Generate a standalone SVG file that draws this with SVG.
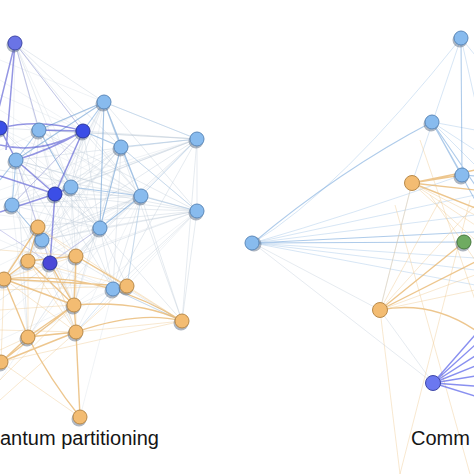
<svg xmlns="http://www.w3.org/2000/svg" width="474" height="474" viewBox="0 0 474 474">
<style>
.e{stroke:#b9c6d6;stroke-width:.8;opacity:.45;fill:none}
.e2{stroke:#c9d3e0;stroke-width:.7;opacity:.4;fill:none}
.eb{stroke:#78a8dc;stroke-width:1.1;opacity:.6;fill:none}
.ebf{stroke:#9cc0e6;stroke-width:.9;opacity:.45;fill:none}
.ep{stroke:#5b5ed4;stroke-width:1.5;opacity:.65;fill:none}
.epf{stroke:#8a8ad8;stroke-width:1;opacity:.4;fill:none}
.eo{stroke:#e6ae5e;stroke-width:1.4;opacity:.7;fill:none}
.eof{stroke:#eec58a;stroke-width:.9;opacity:.45;fill:none}
.ev{stroke:#4a55e8;stroke-width:1.4;opacity:.65;fill:none}
.sh{fill:#4d6078;opacity:.45}
.lb{fill:#88bbee;stroke:#5d8abb;stroke-width:1}
.db{fill:#3b4ee6;stroke:#2a36a0;stroke-width:1}
.pu{fill:#6a74e6;stroke:#3f48a8;stroke-width:1}
.or{fill:#f3bc72;stroke:#b98a4a;stroke-width:1}
.gr{fill:#6fab61;stroke:#497a3f;stroke-width:1}
.lbl{font-family:"Liberation Sans",Arial,sans-serif;font-size:20px;fill:#151515}
</style>
<rect width="474" height="474" fill="#fff"/>
<g id="connectors">
<!-- faint left cluster -->
<path class="e" d="M15 43L83 131M15 43L121 147M15 43L104 102M15 43L71 187M15 43L141 196M15 43L39 130"/>
<path class="e" d="M197 139L104 102M197 139L39 130M197 139L83 131M197 139L121 147M197 139L16 160M197 139L71 187M197 139L55 194M197 139L141 196M197 139L12 205M197 139L100 228M197 139L197 211M197 139L0 128M197 139L42 240M197 139L113 289"/>
<path class="e" d="M197 211L104 102M197 211L121 147M197 211L141 196M197 211L100 228M197 211L71 187M197 211L55 194M197 211L16 160M197 211L12 205M197 211L113 289M197 211L42 240M197 211L76 256M197 211L182 321M197 211L39 130"/>
<path class="e" d="M104 102L39 130M104 102L16 160M104 102L71 187M104 102L55 194M104 102L100 228M104 102L141 196M39 130L71 187M39 130L141 196M39 130L100 228M39 130L12 205M83 131L141 196M83 131L100 228M83 131L71 187M83 131L12 205M121 147L100 228M121 147L55 194M121 147L71 187M121 147L113 289M121 147L42 240M16 160L141 196M16 160L100 228M16 160L71 187M16 160L42 240M71 187L100 228M71 187L113 289M71 187L12 205M71 187L42 240M55 194L141 196M55 194L100 228M55 194L113 289M141 196L100 228M141 196L113 289M141 196L42 240M141 196L12 205M12 205L100 228M12 205L42 240M100 228L113 289M100 228L42 240"/>
<path class="e" d="M100 228L76 256M141 196L76 256M141 196L127 286M100 228L127 286M16 160L76 256M71 187L76 256M113 289L182 321M100 228L182 321M141 196L182 321M197 139L182 321M0 128L100 228M0 170L141 196M0 230L197 211M0 250L141 196M0 300L100 228M12 205L76 332M42 240L182 321M104 102L182 321M121 147L74 305M39 130L28 261M16 160L28 337"/>
<path class="e2" d="M0 60L104 102M0 80L83 131M0 95L121 147M0 110L141 196M0 150L104 102M0 190L121 147M0 200L197 139M0 215L100 228M0 240L113 289M0 265L141 196M0 280L197 211M0 320L141 196M0 340L113 289M0 380L100 228M15 43L55 194M15 43L12 205M15 43L100 228M104 102L28 261M104 102L4 279M121 147L28 261M121 147L4 279M141 196L4 279M141 196L28 337M100 228L4 279M100 228L28 337M100 228L74 305M113 289L28 261M113 289L4 279M113 289L28 337M113 289L80 417M71 187L28 337M71 187L74 305M55 194L74 305M42 240L76 332M42 240L74 305M12 205L28 337M12 205L74 305M83 131L28 261M83 131L76 256M39 130L76 256M16 160L74 305M197 211L74 305M197 211L76 332M197 139L76 256M197 211L127 286M141 196L76 332M104 102L76 256M121 147L12 205M39 130L55 194M0 128L141 196M0 128L71 187"/>
<path class="ebf" d="M197 139L121 147M197 139L104 102M197 211L141 196M197 211L121 147M197 139L141 196M113 289L182 321M113 289L76 332M127 286L141 196"/>
<!-- blue left -->
<path class="eb" d="M104 102L39 130M104 102L83 131M104 102L16 160M104 102L121 147M104 102L141 196M121 147L141 196M121 147L83 131M39 130L16 160M16 160L12 205M12 205L42 240M39 130L71 187M71 187L141 196M121 147L100 228M141 196L100 228M16 160L0 180M104 102L100 228"/>
<!-- purple left -->
<path class="ep" d="M15 43L-2 112M15 43L6 150M0 128Q40 118 83 131M39 130L83 131M83 131Q50 150 16 160M83 131L55 194M16 160L55 194M0 176L55 194M55 194L0 212M55 194L50 263M55 194L71 187M0 128L16 160M0 145Q40 155 83 131"/>
<path class="epf" d="M15 43L39 130M15 43L83 131M50 263L0 230M50 263L16 160M50 263L100 228M83 131L12 205"/>
<!-- orange left -->
<path class="eo" d="M38 227L28 261M28 261L76 256M28 261L4 279M4 279L28 337M28 337L1 362M28 337L76 332M28 337Q50 380 80 417M76 332L80 417M74 305L76 332M76 256L74 305M74 305Q140 300 182 321M76 332Q140 310 182 321M4 279Q100 270 182 321M4 279L127 286M76 256L127 286M28 261L74 305M1 362L74 305M1 362L76 332M4 279L74 305M28 337L74 305M50 263L74 305M38 227L4 279"/>
<path class="eof" d="M28 261L76 332M38 227L74 305M4 279L76 332M1 362L182 321M28 337L182 321M76 256L182 321M127 286L182 321M28 261L28 337M76 256L4 279M0 310L74 305M0 330L76 332M127 286L76 332M4 279L1 362M38 227L76 256M0 250L76 256M0 290L127 286M0 350L28 337M0 400L76 332M0 380L74 305M28 261L127 286M38 227L127 286M50 263L76 332M50 263L28 337M1 362L80 417M76 256L76 332"/>
<!-- right blue -->
<path class="ebf" d="M253 243Q340 190 461 38M253 243L475 195M253 243L475 215M253 243L475 258M253 243L475 270M253 243L475 285M461 38L475 100M461 38L412 183M432 122L475 150M432 122L475 165M253 243Q350 215 462 175M461 38L475 55M432 122L475 130"/>
<path class="eb" d="M253 243Q340 170 432 122M253 243L464 242M253 243L475 232M461 38L462 175M432 122L462 175M432 122L475 185M432 122L475 200M462 175L475 176"/>
<!-- right orange -->
<path class="eo" d="M412 183L475 170M412 183L475 190M412 183L475 208M412 183L462 175M380 310L475 262M380 310Q430 300 475 330M380 310L464 242"/>
<path class="eof" d="M412 183L475 225M412 183L475 240M380 310L412 183M380 310L440 200M380 310L475 290M380 310L475 205M395 205L470 474M430 195L475 260M400 474L470 200M420 140L475 300M380 310L400 474M412 183L475 215M380 310L475 275"/>
<path class="e" d="M380 310L433 383M412 183L380 310M253 243L433 383M253 243L380 310"/>
<!-- right purple -->
<path class="ev" d="M433 383L475 335M433 383L475 345M433 383L475 356M433 383L475 366M433 383L475 376M433 383L475 386M433 383L475 396"/>
</g>
<g id="n1"><circle class="sh" cx="14" cy="45" r="7.5"/><circle class="pu" cx="15" cy="43" r="7"/></g>
<g id="n2"><circle class="sh" cx="103" cy="104" r="7.5"/><circle class="lb" cx="104" cy="102" r="7"/></g>
<g id="n3"><circle class="sh" cx="38" cy="132" r="7.5"/><circle class="lb" cx="39" cy="130" r="7"/></g>
<g id="n4"><circle class="sh" cx="82" cy="133" r="7.5"/><circle class="db" cx="83" cy="131" r="7"/></g>
<g id="n5"><circle class="sh" cx="120" cy="149" r="7.5"/><circle class="lb" cx="121" cy="147" r="7"/></g>
<g id="n6"><circle class="sh" cx="196" cy="141" r="7.5"/><circle class="lb" cx="197" cy="139" r="7"/></g>
<g id="n7"><circle class="sh" cx="-1" cy="130" r="7.5"/><circle class="db" cx="0" cy="128" r="7"/></g>
<g id="n8"><circle class="sh" cx="15" cy="162" r="7.5"/><circle class="lb" cx="16" cy="160" r="7"/></g>
<g id="n9"><circle class="sh" cx="70" cy="189" r="7.5"/><circle class="lb" cx="71" cy="187" r="7"/></g>
<g id="n10"><circle class="sh" cx="54" cy="196" r="7.5"/><circle class="db" cx="55" cy="194" r="7"/></g>
<g id="n11"><circle class="sh" cx="140" cy="198" r="7.5"/><circle class="lb" cx="141" cy="196" r="7"/></g>
<g id="n12"><circle class="sh" cx="196" cy="213" r="7.5"/><circle class="lb" cx="197" cy="211" r="7"/></g>
<g id="n13"><circle class="sh" cx="11" cy="207" r="7.5"/><circle class="lb" cx="12" cy="205" r="7"/></g>
<g id="n14"><circle class="sh" cx="99" cy="230" r="7.5"/><circle class="lb" cx="100" cy="228" r="7"/></g>
<g id="n16"><circle class="sh" cx="41" cy="242" r="7.5"/><circle class="lb" cx="42" cy="240" r="7"/></g>
<g id="n15"><circle class="sh" cx="37" cy="229" r="7.5"/><circle class="or" cx="38" cy="227" r="7"/></g>
<g id="n17"><circle class="sh" cx="27" cy="263" r="7.5"/><circle class="or" cx="28" cy="261" r="7"/></g>
<g id="n18"><circle class="sh" cx="49" cy="265" r="7.5"/><circle class="db" cx="50" cy="263" r="7" style="fill:#4a48d8"/></g>
<g id="n19"><circle class="sh" cx="75" cy="258" r="7.5"/><circle class="or" cx="76" cy="256" r="7"/></g>
<g id="n20"><circle class="sh" cx="3" cy="281" r="7.5"/><circle class="or" cx="4" cy="279" r="7"/></g>
<g id="n21"><circle class="sh" cx="112" cy="291" r="7.5"/><circle class="lb" cx="113" cy="289" r="7"/></g>
<g id="n22"><circle class="sh" cx="126" cy="288" r="7.5"/><circle class="or" cx="127" cy="286" r="7"/></g>
<g id="n23"><circle class="sh" cx="73" cy="307" r="7.5"/><circle class="or" cx="74" cy="305" r="7"/></g>
<g id="n24"><circle class="sh" cx="181" cy="323" r="7.5"/><circle class="or" cx="182" cy="321" r="7"/></g>
<g id="n25"><circle class="sh" cx="75" cy="334" r="7.5"/><circle class="or" cx="76" cy="332" r="7"/></g>
<g id="n26"><circle class="sh" cx="27" cy="339" r="7.5"/><circle class="or" cx="28" cy="337" r="7"/></g>
<g id="n27"><circle class="sh" cx="0" cy="364" r="7.5"/><circle class="or" cx="1" cy="362" r="7"/></g>
<g id="n28"><circle class="sh" cx="79" cy="419" r="7.5"/><circle class="or" cx="80" cy="417" r="7"/></g>
<g id="r1"><circle class="sh" cx="460" cy="40" r="7.5"/><circle class="lb" cx="461" cy="38" r="7"/></g>
<g id="r2"><circle class="sh" cx="431" cy="124" r="7.5"/><circle class="lb" cx="432" cy="122" r="7"/></g>
<g id="r3"><circle class="sh" cx="461" cy="177" r="7.5"/><circle class="lb" cx="462" cy="175" r="7"/></g>
<g id="r4"><circle class="or" cx="412" cy="183" r="7.5"/></g>
<g id="r5"><circle class="sh" cx="254" cy="244" r="7.5"/><circle class="lb" cx="252" cy="243" r="7"/></g>
<g id="r6"><circle class="sh" cx="463" cy="244" r="7.5"/><circle class="gr" cx="464" cy="242" r="7"/></g>
<g id="r7"><circle class="or" cx="380" cy="310" r="7.5"/></g>
<g id="r8"><circle class="pu" cx="433" cy="383" r="7.5" style="fill:#6b78f0"/></g>
<text class="lbl" x="0" y="445">antum partitioning</text>
<text class="lbl" x="411" y="445">Comm</text>
</svg>
